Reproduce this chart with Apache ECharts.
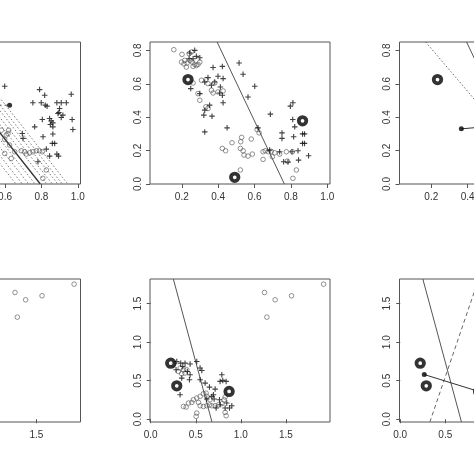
<!DOCTYPE html>
<html><head><meta charset="utf-8">
<script src="https://cdn.jsdelivr.net/npm/echarts@6/dist/echarts.min.js"></script>
<style>html,body{margin:0;padding:0;background:#fff;overflow:hidden;width:474px;height:474px}
#wrap{position:relative;width:474px;height:474px;overflow:hidden}
#c{position:absolute;left:-250px;top:0;width:974px;height:474px}</style>
</head><body><div id="wrap"><div id="c"></div></div>
<script>
// ---------- tick labels ----------
const topXTicks = [0.2, 0.4, 0.6, 0.8, 1.0];
const topYTicks = [0.0, 0.2, 0.4, 0.6, 0.8];
const botXTicks = [0.0, 0.5, 1.0, 1.5];
const botYTicks = [0.0, 0.5, 1.0, 1.5];

// ---------- top row data ----------
const tmCircles = [[0.156,0.804],[0.201,0.776],[0.198,0.730],[0.216,0.740],[0.229,0.724],[0.244,0.740],[0.258,0.730],[0.271,0.716],[0.289,0.716],[0.299,0.730],[0.240,0.780],[0.253,0.790],[0.212,0.719],[0.225,0.700],[0.262,0.704],[0.280,0.709],[0.308,0.621],[0.332,0.625],[0.344,0.601],[0.381,0.605],[0.363,0.561],[0.372,0.545],[0.399,0.551],[0.427,0.557],[0.289,0.541],[0.299,0.501],[0.332,0.462],[0.344,0.452],[0.262,0.605],[0.423,0.213],[0.441,0.199],[0.476,0.247],[0.529,0.279],[0.524,0.253],[0.522,0.213],[0.537,0.199],[0.542,0.173],[0.564,0.167],[0.588,0.179],[0.582,0.269],[0.614,0.326],[0.625,0.306],[0.647,0.147],[0.647,0.193],[0.659,0.199],[0.676,0.193],[0.692,0.195],[0.698,0.163],[0.711,0.187],[0.738,0.179],[0.775,0.193],[0.808,0.193],[0.780,0.137],[0.830,0.084],[0.811,0.034],[0.522,0.084]];
const tmPluses = [[0.244,0.784],[0.271,0.800],[0.280,0.764],[0.299,0.756],[0.262,0.750],[0.240,0.750],[0.372,0.697],[0.423,0.704],[0.515,0.724],[0.537,0.657],[0.601,0.585],[0.399,0.645],[0.427,0.631],[0.344,0.637],[0.381,0.611],[0.412,0.581],[0.408,0.545],[0.423,0.531],[0.427,0.486],[0.363,0.591],[0.326,0.611],[0.249,0.571],[0.299,0.541],[0.353,0.472],[0.326,0.442],[0.321,0.412],[0.366,0.406],[0.326,0.312],[0.449,0.336],[0.564,0.521],[0.687,0.418],[0.619,0.336],[0.751,0.306],[0.751,0.273],[0.760,0.133],[0.806,0.193],[0.811,0.486],[0.797,0.466],[0.810,0.386],[0.821,0.342],[0.815,0.283],[0.864,0.300],[0.875,0.300],[0.864,0.243],[0.875,0.243],[0.897,0.169],[0.842,0.143],[0.839,0.199],[0.683,0.203],[0.738,0.193],[0.784,0.131]];
const topRings = [[0.234,0.625],[0.491,0.040],[0.864,0.378]];
const tmSolidLine = [[0.394,0.85],[0.764,0.0]];

const tlCircles = [[0.580,0.322],[0.607,0.293],[0.598,0.267],[0.620,0.322],[0.616,0.302],[0.598,0.183],[0.634,0.153],[0.625,0.233],[0.653,0.193],[0.689,0.199],[0.708,0.193],[0.717,0.179],[0.735,0.187],[0.753,0.193],[0.772,0.199],[0.790,0.199],[0.805,0.193],[0.827,0.084],[0.808,0.034]];
const tlPluses = [[0.598,0.585],[0.753,0.486],[0.790,0.565],[0.818,0.531],[0.799,0.486],[0.821,0.472],[0.831,0.466],[0.885,0.486],[0.909,0.486],[0.937,0.486],[0.964,0.537],[0.900,0.452],[0.896,0.428],[0.918,0.412],[0.909,0.398],[0.891,0.422],[0.969,0.386],[0.805,0.386],[0.845,0.392],[0.854,0.378],[0.863,0.366],[0.849,0.356],[0.863,0.342],[0.763,0.342],[0.973,0.326],[0.695,0.302],[0.699,0.273],[0.809,0.283],[0.863,0.299],[0.860,0.243],[0.873,0.243],[0.827,0.209],[0.845,0.167],[0.885,0.179],[0.894,0.167],[0.781,0.133]];
const tlDot = [[0.625,0.472]];
const tlDashLine = [[0.30,0.472],[0.625,0.472]];
const tlSlope = -1.38;
const tlSolidIntercept = 0.794;
const tlBandIntercepts = [0.66,0.695,0.73,0.765,0.83,0.86,0.89,0.915,0.945];

const trDot = [[0.365,0.330]];
const trDotLine = [[0.365,0.330],[0.864,0.378]];
const trDottedLine = [[0.169,0.85],[0.833,0.0]];

// ---------- bottom row data ----------
const bmCircles = [[0.252,0.707],[0.326,0.664],[0.363,0.642],[0.381,0.599],[0.344,0.590],[0.307,0.620],[0.400,0.642],[0.363,0.166],[0.393,0.158],[0.419,0.210],[0.456,0.218],[0.474,0.253],[0.511,0.275],[0.548,0.296],[0.585,0.331],[0.615,0.339],[0.622,0.296],[0.530,0.218],[0.548,0.175],[0.585,0.166],[0.622,0.175],[0.652,0.184],[0.678,0.175],[0.715,0.175],[0.752,0.188],[0.789,0.201],[0.815,0.253],[0.826,0.288],[0.511,0.080],[0.504,0.037],[0.826,0.089],[0.837,0.045],[0.659,0.253],[1.263,1.645],[1.381,1.550],[1.563,1.602],[1.919,1.753],[1.289,1.325]];
const bmPluses = [[0.289,0.750],[0.333,0.728],[0.381,0.728],[0.437,0.716],[0.281,0.642],[0.356,0.685],[0.407,0.620],[0.437,0.577],[0.430,0.512],[0.344,0.534],[0.326,0.318],[0.511,0.750],[0.548,0.664],[0.567,0.633],[0.548,0.512],[0.604,0.469],[0.652,0.417],[0.789,0.577],[0.800,0.504],[0.770,0.491],[0.837,0.491],[0.715,0.391],[0.696,0.318],[0.704,0.262],[0.763,0.253],[0.770,0.188],[0.844,0.210],[0.900,0.175],[0.874,0.145],[0.826,0.145],[0.726,0.145],[0.678,0.296],[0.622,0.262]];
const botRings = [[0.222,0.728],[0.289,0.434],[0.870,0.361]];
const bmSolidLine = [[0.251,1.82],[0.680,-0.036]];
const brDot = [[0.267,0.580]];
const brDotLine = [[0.267,0.580],[0.870,0.361]];
const brDashLine = [[0.329,-0.036],[0.871,1.82]];

// ---------- chart ----------
const FONT = 'Liberation Sans, Arial, sans-serif';
const AX = '#555';
// the canvas is 250px wider on each side than the window; panels on the sides are cut off like the reference
const colLeft = [150.5, 400, 649.5];
const grids = [];
for (let r = 0; r < 2; r++) for (let c = 0; c < 3; c++) {
  grids.push({left: colLeft[c], top: r === 0 ? 42 : 279, width: 180, height: r === 0 ? 142 : 143,
    show: true, borderColor: AX, borderWidth: 1, backgroundColor: 'transparent', containLabel: false});
}
function xAx(i, top) {
  const ticks = top ? topXTicks : botXTicks;
  return {type: 'value', gridIndex: i, min: top ? 0.025 : -0.008, max: top ? 1.015 : 1.99,
    splitLine: {show: false}, axisLine: {show: false},
    axisTick: {show: true, inside: false, length: 4, lineStyle: {color: AX, width: 1}, customValues: ticks},
    axisLabel: {show: true, margin: 8, fontSize: 10, color: '#333', fontFamily: FONT, customValues: ticks,
      formatter: v => Number(v).toFixed(1)}};
}
function yAx(i, top) {
  const ticks = top ? topYTicks : botYTicks;
  return {type: 'value', gridIndex: i, min: top ? 0 : -0.036, max: top ? 0.85 : 1.82,
    splitLine: {show: false}, axisLine: {show: false},
    axisTick: {show: true, inside: false, length: 4, lineStyle: {color: AX, width: 1}, customValues: ticks},
    axisLabel: {show: true, rotate: 90, margin: 7, fontSize: 10, color: '#333', fontFamily: FONT, customValues: ticks,
      formatter: v => Number(v).toFixed(1)}};
}
const xAxes = [], yAxes = [];
for (let i = 0; i < 6; i++) { xAxes.push(xAx(i, i < 3)); yAxes.push(yAx(i, i < 3)); }

const PLUS = 'path://M5,0L5,10M0,5L10,5';
function circles(data, gi) {
  return {type: 'scatter', xAxisIndex: gi, yAxisIndex: gi, data: data, symbol: 'circle', symbolSize: 4.6,
    itemStyle: {color: 'rgba(0,0,0,0)', borderColor: '#555', borderWidth: 0.8}, z: 3};
}
function pluses(data, gi) {
  return {type: 'scatter', xAxisIndex: gi, yAxisIndex: gi, data: data, symbol: PLUS, symbolSize: 5.5,
    itemStyle: {color: 'rgba(0,0,0,0)', borderColor: '#111', borderWidth: 1.1}, z: 3};
}
function rings(data, gi) {
  return {type: 'scatter', xAxisIndex: gi, yAxisIndex: gi, data: data, symbol: 'circle', symbolSize: 7.5,
    itemStyle: {color: '#fff', borderColor: '#000', borderWidth: 3.8}, z: 6};
}
function dots(data, gi) {
  return {type: 'scatter', xAxisIndex: gi, yAxisIndex: gi, data: data, symbol: 'circle', symbolSize: 5,
    itemStyle: {color: '#000'}, z: 6};
}
function line(data, gi, type, color, width) {
  return {type: 'line', xAxisIndex: gi, yAxisIndex: gi, data: data, symbol: 'none', clip: true,
    lineStyle: {color: color || '#555', width: width || 1, type: type || 'solid'}, z: 2};
}
function slopedLine(x0, slope, yTop) {
  return [[x0 + yTop / slope, yTop], [x0, 0]];
}

const series = [];
// top-left
tlBandIntercepts.forEach(x0 => series.push(line(slopedLine(x0, tlSlope, 0.85), 0, [1.5, 2], '#777', 1)));
series.push(line(slopedLine(tlSolidIntercept, tlSlope, 0.85), 0, 'solid', '#333', 1.3));
series.push(line(tlDashLine, 0, [3, 3], '#666', 1));
series.push(circles(tlCircles, 0), pluses(tlPluses, 0), dots(tlDot, 0));
// top-middle
series.push(line(tmSolidLine, 1, 'solid', '#555', 1));
series.push(circles(tmCircles, 1), pluses(tmPluses, 1), rings(topRings, 1));
// top-right
series.push(line(tmSolidLine, 2, 'solid', '#555', 1));
series.push(line(trDottedLine, 2, [1.5, 2], '#666', 1));
series.push(line(trDotLine, 2, 'solid', '#333', 1));
series.push(rings(topRings, 2), dots(trDot, 2));
// bottom-left
series.push(circles(bmCircles, 3), pluses(bmPluses, 3));
// bottom-middle
series.push(line(bmSolidLine, 4, 'solid', '#555', 1));
series.push(circles(bmCircles, 4), pluses(bmPluses, 4), rings(botRings, 4));
// bottom-right
series.push(line(bmSolidLine, 5, 'solid', '#555', 1));
series.push(line(brDashLine, 5, [4, 3], '#666', 1));
series.push(line(brDotLine, 5, 'solid', '#333', 1));
series.push(rings(botRings, 5), dots(brDot, 5));

const chart = echarts.init(document.getElementById('c'), null, {renderer: 'canvas'});
chart.setOption({animation: false, backgroundColor: '#fff', grid: grids, xAxis: xAxes, yAxis: yAxes, series: series});
</script></body></html>
